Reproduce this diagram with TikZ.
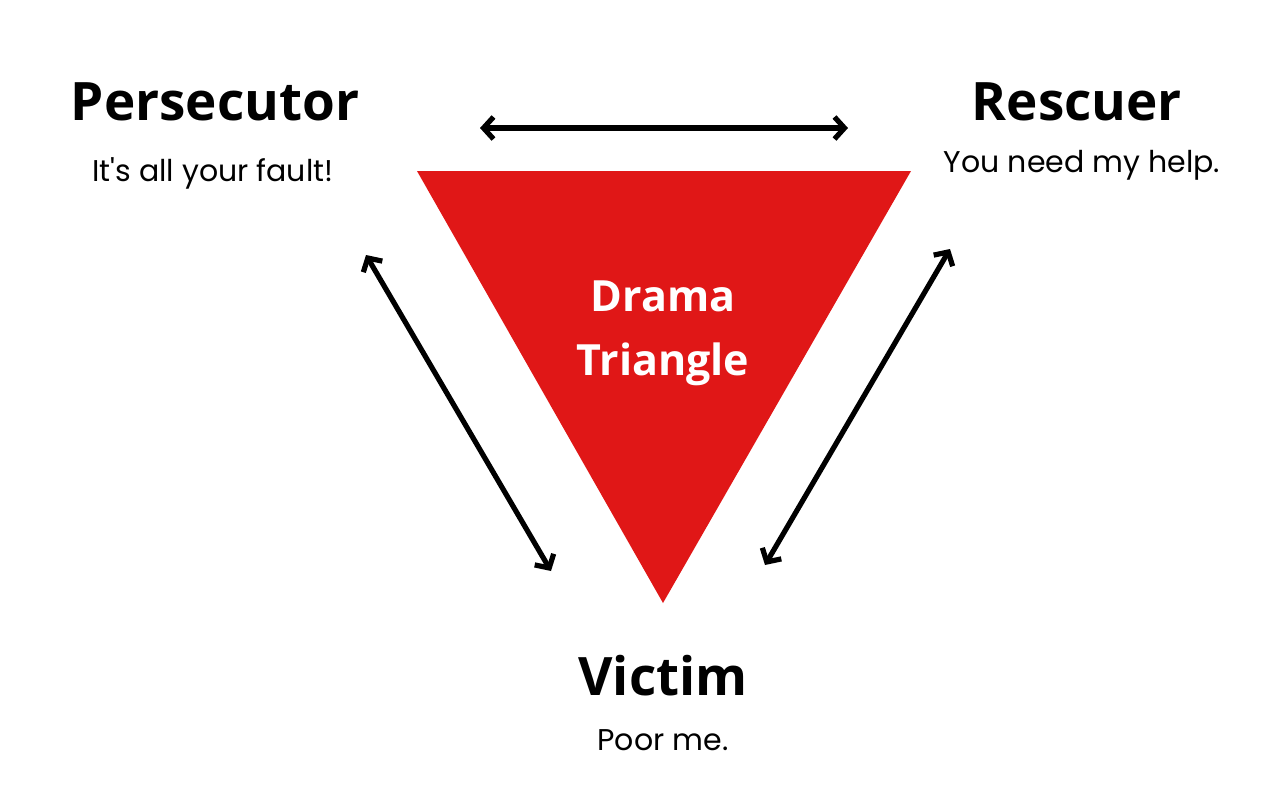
\documentclass[tikz,border=0pt]{standalone}
\usepackage{fontspec}
\setmainfont{Open Sans}
\newfontfamily\subf{Poppins}
\usetikzlibrary{arrows.meta}
\definecolor{dred}{HTML}{E01717}
\tikzset{
 title/.style={font=\bfseries\fontsize{26.5}{30}\selectfont, text=black},
 sub/.style={font=\subf\fontsize{15}{18}\selectfont, text=black},
 link/.style={line width=2.6pt, {Straight Barb[length=5pt,width=11pt]}-{Straight Barb[length=5pt,width=11pt]}}
}
\begin{document}
\begin{tikzpicture}[x=0.5pt,y=-0.5pt]
\useasboundingbox (0,0) rectangle (1282,800);
\fill[dred] (417,171) -- (911,171) -- (663,603) -- cycle;
\node[font=\bfseries\fontsize{21.5}{32}\selectfont, text=white, align=center] (dt) at (663,333) {Drama\\Triangle};
\node[title] (per) at (215,102) {Persecutor};
\node[sub] (pers) at (213,173) {It's all your fault!};
\node[title] (res) at (1077,102) {Rescuer};
\node[sub] (ress) at (1082,165) {You need my help.};
\node[title] (vic) at (663,676) {Victim};
\node[sub] (vics) at (663,740) {Poor me.};
\coordinate (a1) at (480,128); \coordinate (a2) at (848,128);
\coordinate (b1) at (366,255); \coordinate (b2) at (551,571);
\coordinate (c1) at (950,249); \coordinate (c2) at (765,565);
\draw[link] (a1) -- (a2);
\draw[link] (b1) -- (b2);
\draw[link] (c1) -- (c2);
\end{tikzpicture}
\end{document}
